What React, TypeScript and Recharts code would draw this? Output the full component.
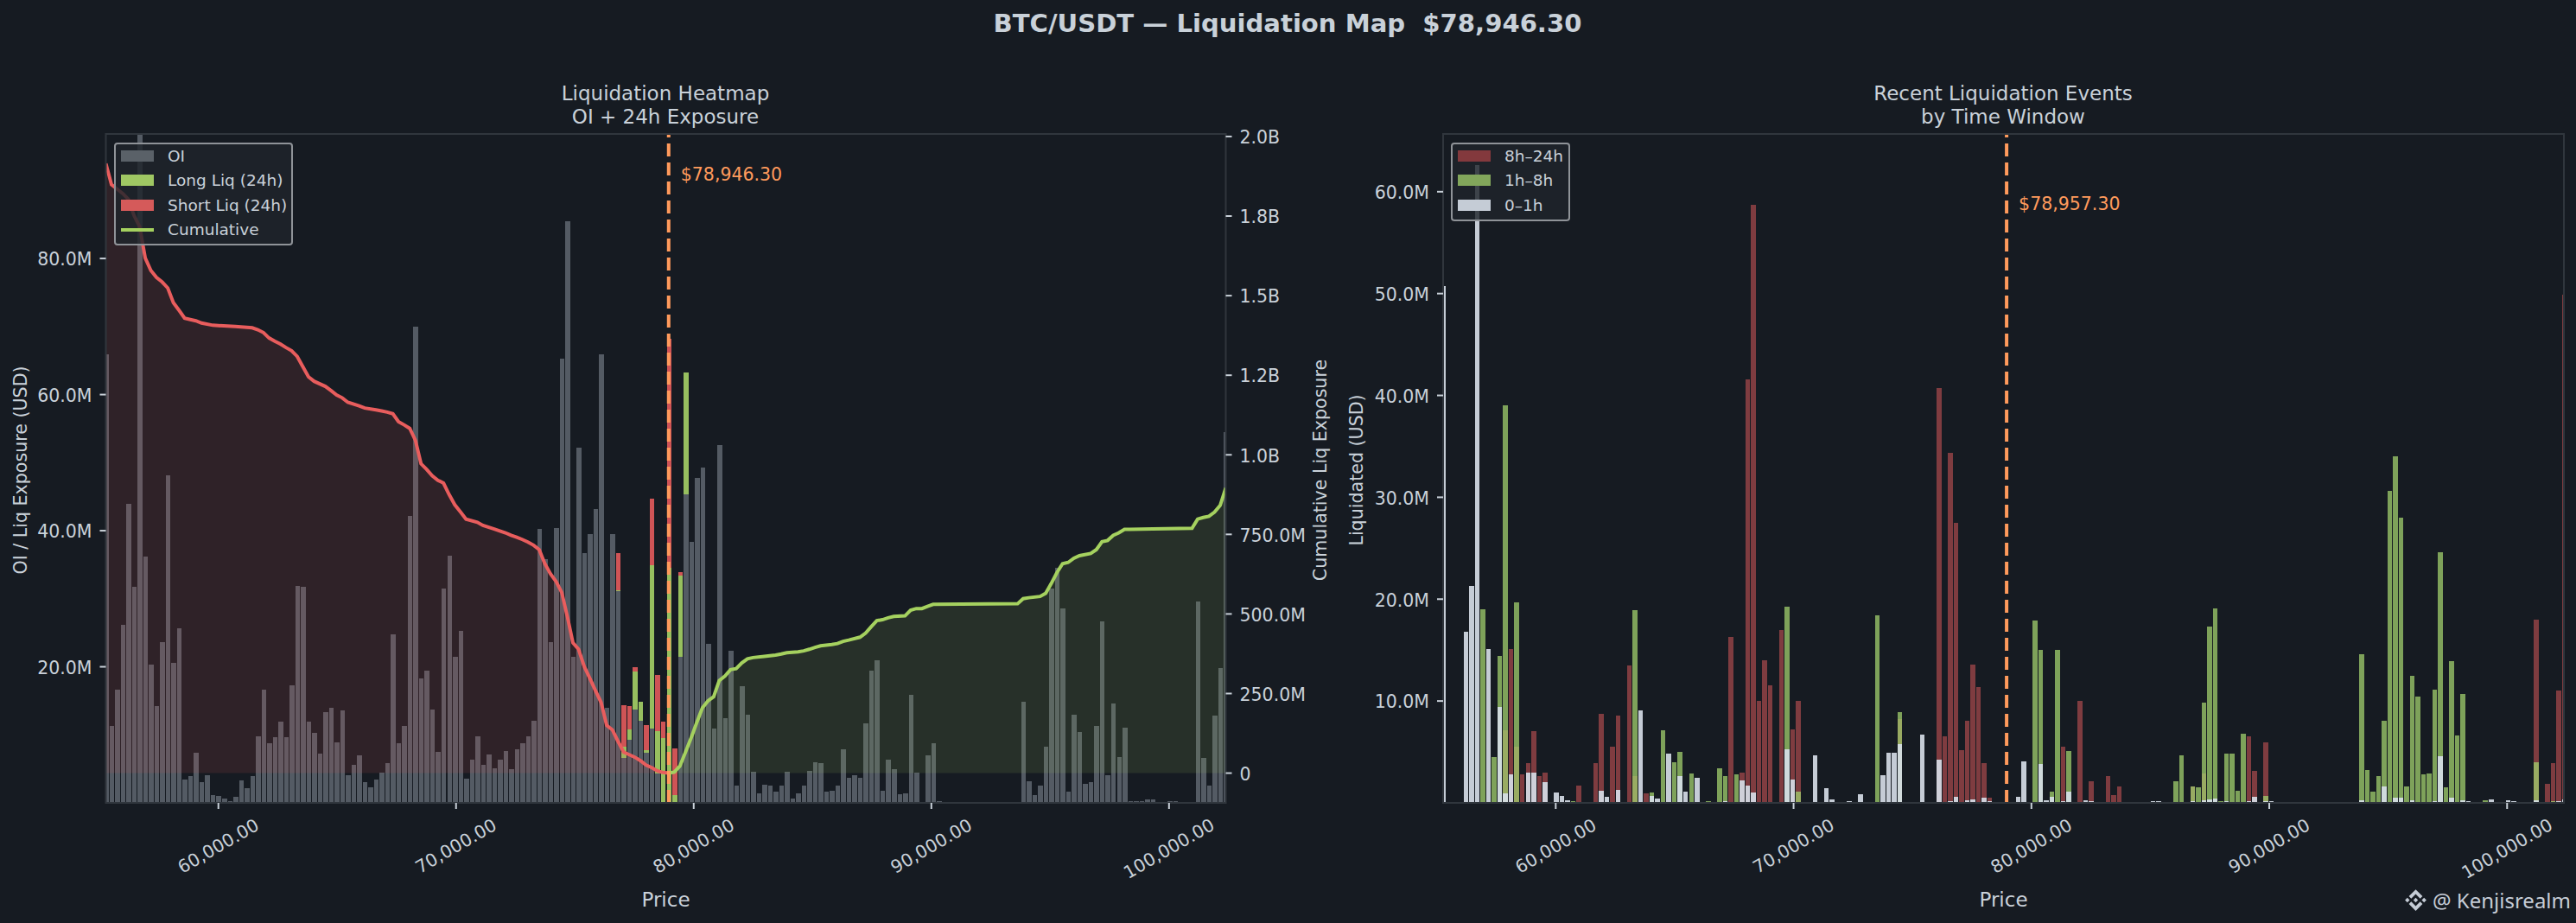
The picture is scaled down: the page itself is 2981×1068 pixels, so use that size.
import React from 'react';
import { Area, Bar, ComposedChart, ReferenceArea, ReferenceLine, XAxis, YAxis } from 'recharts';

// 200 price bins, first and last bin centre sit on the plot edges
const FIRST_BIN = 55265;
const BIN_STEP = 236.8;
const priceTicks = [60000, 70000, 80000, 90000, 100000];
const cumTicks = [0, 0.25, 0.5, 0.75, 1, 1.25, 1.5, 1.75, 2];
const cumTickLabels = ['0', '250.0M', '500.0M', '750.0M', '1.0B', '1.2B', '1.5B', '1.8B', '2.0B'];

// values in millions USD
const oiValues = [
  65.9, 11.3, 16.6, 26.2, 44, 31.8, 100, 36.2, 20.3, 14.2, 23.6, 48.1, 20.6, 25.6, 3.4, 4, 7.4, 3.1, 4.1, 1.2,
  1, 0.6, 0.2, 0.9, 3.3, 2.2, 4, 9.8, 16.6, 8.8, 9.6, 12, 9.6, 17.3, 31.9, 31.8, 12, 10.3, 7.3, 13.3,
  14, 8.9, 13.6, 4.1, 5.6, 7, 3, 2.3, 3.4, 4.5, 5.9, 24.8, 8.8, 11.3, 42.2, 70, 18.3, 19.4, 13.7, 7.5,
  31.5, 36.3, 21.5, 25.3, 3.6, 6.4, 9.8, 5.6, 7.1, 5.1, 6.3, 7.6, 5, 7.9, 8.7, 9.8, 12.1, 40.3, 35.8, 23.6,
  40.4, 65.3, 85.5, 21.5, 52.2, 36.7, 39.5, 43.2, 65.9, 14, 39.5, 31.1, 6.6, 9.3, 13.7, 12.1, 7.4, 10.9, 4.3, 0,
  0, 0, 21.5, 45.3, 38.3, 47.8, 49.3, 23.4, 10.9, 52.6, 12.5, 22.4, 2.5, 17.2, 12.9, 4.6, 1.4, 2.7, 2.5, 1.7,
  2.6, 4.6, 0.6, 1.4, 2.5, 4.7, 6, 5.8, 1.7, 1.8, 2.5, 7.9, 3.7, 4.1, 3.7, 11.7, 19.4, 21, 1.8, 6.3,
  5, 1.3, 1.4, 15.9, 4.5, 0, 7, 8.8, 0.25, 0, 0, 0.1, 0, 0, 0, 0.1, 0, 0, 0, 0,
  0, 0, 0, 14.9, 3.2, 1.2, 2.6, 8.2, 31.5, 34.6, 28.6, 1.6, 12.9, 10.4, 2.8, 3, 11.3, 26.7, 4.1, 14.6,
  6.7, 11.1, 0.25, 0.2, 0.2, 0.5, 0.5, 0, 0, 0.25, 0.2, 0, 0, 0, 29.6, 6.6, 2.5, 12.8, 19.8, 54.5,
];
const longLiq: Record<number, number> = {
  91: 0.1, 92: 1.6, 93: 1.5, 94: 5.6, 95: 2.8, 96: 0.3, 97: 24, 98: 6.2, 99: 9.5, 100: 34.5, 101: 1.1, 102: 11.9, 103: 17.9,
};
const shortLiq: Record<number, number> = {
  91: 5.5, 92: 6.2, 93: 3.4, 94: 0.6, 96: 3.7, 97: 9.8, 98: 8.3, 99: 2.4, 100: 33.7, 101: 6.9, 102: 0.5, 103: 0.1,
};

// cumulative exposure in billions USD, sampled at the bins where it could be read
const cumShort: Record<number, number> = {
  0: 1.915, 1: 1.849, 2: 1.835, 3: 1.821, 4: 1.803, 5: 1.752, 6: 1.717, 7: 1.618, 8: 1.579, 9: 1.557, 10: 1.543,
  11: 1.524, 12: 1.478, 13: 1.454, 14: 1.429, 15: 1.425, 16: 1.421, 17: 1.414, 19: 1.407, 20: 1.406, 23: 1.403,
  26: 1.399, 27: 1.393, 28: 1.384, 29: 1.367, 30: 1.357, 31: 1.348, 32: 1.337, 33: 1.327, 34: 1.309, 35: 1.277,
  36: 1.245, 37: 1.231, 39: 1.215, 40: 1.202, 41: 1.188, 42: 1.179, 43: 1.165, 45: 1.154, 46: 1.147, 48: 1.141,
  49: 1.138, 50: 1.134, 51: 1.129, 52: 1.104, 53: 1.094, 54: 1.083, 55: 1.046, 56: 0.972, 57: 0.954, 58: 0.934,
  59: 0.92, 60: 0.911, 61: 0.875, 62: 0.843, 63: 0.821, 64: 0.798, 66: 0.788, 67: 0.778, 69: 0.767, 71: 0.755,
  72: 0.747, 73: 0.741, 74: 0.734, 75: 0.726, 76: 0.716, 77: 0.702, 78: 0.658, 79: 0.626, 80: 0.602, 81: 0.568,
  82: 0.492, 83: 0.409, 84: 0.389, 85: 0.335, 86: 0.298, 87: 0.259, 88: 0.222, 89: 0.15, 90: 0.136, 91: 0.1,
  92: 0.066, 93: 0.058, 94: 0.05, 95: 0.039, 96: 0.025, 97: 0.017, 98: 0.007, 99: 0.002, 100: 0,
};
const cumLong: Record<number, number> = {
  100: 0, 101: 0.003, 102: 0.022, 103: 0.066, 104: 0.111, 105: 0.159, 106: 0.205, 107: 0.227, 108: 0.24, 109: 0.291,
  110: 0.305, 111: 0.325, 112: 0.328, 113: 0.346, 114: 0.359, 115: 0.363, 117: 0.367, 119: 0.371, 120: 0.374,
  121: 0.378, 123: 0.381, 124: 0.384, 125: 0.389, 126: 0.395, 127: 0.4, 129: 0.404, 130: 0.407, 131: 0.414,
  132: 0.418, 134: 0.427, 135: 0.44, 136: 0.46, 137: 0.479, 138: 0.482, 139: 0.488, 140: 0.492, 142: 0.494,
  143: 0.512, 144: 0.517, 145: 0.517, 146: 0.524, 147: 0.53, 162: 0.532, 163: 0.548, 164: 0.551, 166: 0.555,
  167: 0.565, 168: 0.596, 169: 0.63, 170: 0.658, 171: 0.662, 172: 0.675, 173: 0.683, 175: 0.69, 176: 0.702,
  177: 0.727, 178: 0.731, 179: 0.747, 180: 0.755, 181: 0.766, 182: 0.766, 186: 0.767, 193: 0.769, 194: 0.798,
  195: 0.803, 196: 0.807, 197: 0.82, 198: 0.841, 199: 0.896,
};

// recent events per time window, millions USD
const recent8to24h: Record<number, number> = {
  11: 7.1, 12: 15.1, 13: 5.5, 14: 2.8, 15: 3.9, 16: 7, 17: 2.6, 18: 3, 24: 1.7, 27: 3.9, 28: 8.7, 30: 5.5, 31: 8.6, 33: 13.5,
  34: 2.6, 36: 0.95, 51: 16.3, 53: 3, 54: 41.6, 55: 58.7, 56: 10, 57: 14, 58: 11.5, 60: 17, 62: 7.2, 63: 10, 81: 8.2,
  88: 40.7, 89: 6.5, 90: 34.4, 91: 27.5, 92: 5.2, 93: 8.1, 94: 13.6, 95: 11.4, 96: 3.9, 97: 0.5, 110: 5.5, 113: 10,
  115: 2.1, 118: 2.6, 119: 0.8, 120: 1.6, 133: 1.6, 135: 2.9, 143: 6.5, 144: 3.1, 146: 5.9, 194: 18, 196: 1.9, 197: 3.9,
  198: 11, 199: 49.9,
};
const recent1to8h: Record<number, number> = {
  7: 19, 9: 4.5, 10: 14.4, 11: 39, 13: 19.7, 23: 0.13, 24: 0.1, 34: 18.9, 37: 1, 39: 7.1, 41: 4, 42: 5, 44: 2.9, 47: 0.17,
  49: 3.4, 50: 2.6, 52: 2.8, 61: 19.3, 63: 1.1, 77: 18.4, 81: 8.9, 105: 17.9, 106: 15, 108: 1.1, 109: 15, 111: 5.1,
  130: 2.1, 131: 4.7, 133: 1.6, 134: 1.5, 135: 9.8, 136: 17.3, 137: 19.1, 138: 0.17, 139: 4.8, 140: 4.8, 141: 1.2,
  142: 6.8, 146: 0.7, 163: 14.6, 164: 3.2, 165: 1.1, 166: 2.6, 167: 8.1, 168: 30.6, 169: 34, 170: 28, 171: 1.6, 172: 12.5,
  173: 10.4, 174: 2.8, 175: 2.9, 176: 11.1, 177: 24.6, 178: 1.5, 179: 13.9, 180: 6.6, 181: 10.7, 183: 0.05, 185: 0.26,
  187: 0.05, 192: 0.05, 194: 4, 196: 0.05, 197: 0.17,
};
const recent0to1h: Record<number, number> = {
  0: 50.7, 4: 16.8, 5: 21.3, 6: 62.6, 8: 15.1, 10: 9.4, 11: 0.9, 12: 2.8, 15: 3, 16: 3, 18: 2, 20: 1, 21: 0.7, 22: 0.26, 25: 0.05,
  28: 1.2, 29: 0.6, 31: 1.3, 35: 9.1, 37: 0.7, 38: 0.43, 40: 4.8, 42: 2.6, 43: 1.1, 45: 2.5, 50: 0.17, 53: 2.2, 54: 1.7, 55: 1,
  58: 0.05, 61: 5.3, 62: 2.3, 63: 0.1, 66: 4.7, 68: 1.4, 69: 0.35, 72: 0.13, 74: 0.87, 78: 2.7, 79: 4.9, 80: 4.9, 81: 5.8,
  83: 0.05, 85: 6.7, 88: 4.2, 90: 0.17, 91: 0.6, 93: 0.26, 94: 0.35, 96: 0.5, 97: 0.17, 102: 0.6, 103: 4.1, 104: 0.05,
  106: 3.8, 107: 0.26, 108: 0.6, 110: 0.17, 111: 1.1, 113: 0.05, 114: 0.26, 115: 0.17, 117: 0.05, 118: 0.05, 120: 0.05,
  121: 0.05, 124: 0.05, 126: 0.13, 127: 0.13, 132: 0.05, 133: 0.17, 134: 0.05, 135: 0.26, 136: 0.35, 137: 0.43, 139: 0.13,
  140: 0.05, 143: 0.17, 144: 0.6, 146: 0.13, 147: 0.13, 163: 0.26, 164: 0.05, 167: 1.6, 169: 0.5, 170: 0.5, 172: 0.26,
  173: 0.05, 176: 0.13, 177: 4.6, 179: 0.5, 180: 0.05, 181: 0.26, 182: 0.13, 186: 0.35, 189: 0.26, 190: 0.13, 194: 0.26,
  198: 0.13, 199: 0.35,
};

const binPrice = (i: number) => FIRST_BIN + BIN_STEP * i;
const priceDomain = [binPrice(0), binPrice(199)];

const heatmapRows = oiValues.map((oi, i) => ({
  price: binPrice(i),
  oi,
  long: longLiq[i] ?? 0,
  short: shortLiq[i] ?? 0,
  cumShort: cumShort[i],
  cumLong: cumLong[i],
}));
const eventRows = oiValues.map((_, i) => ({
  price: binPrice(i),
  w8to24: recent8to24h[i] ?? 0,
  w1to8: recent1to8h[i] ?? 0,
  w0to1: recent0to1h[i] ?? 0,
}));

const BG = '#161b22';
const TEXT = '#c9d1d9';
const SPINE = '#30363d';
const ORANGE = '#ff9a5c';
const GREEN = '#a5d15f';
const RED = '#e85d5d';
const FONT = 'DejaVu Sans';
const BAR_WIDTH = 5.5;
const TICK = { fill: TEXT, fontSize: 20.5, fontFamily: FONT, dy: 1 };
const PRICE_LABEL = { fill: TEXT, fontSize: 23, fontFamily: FONT, textAnchor: 'middle' as const };

const PriceTick = ({ x, payload }: any) => {
  const label = payload.value.toLocaleString('en-US', { minimumFractionDigits: 2 });
  const cy = label.length > 9 ? 982 : 979;
  return (
    <text
      x={x}
      y={cy}
      transform={`rotate(-30 ${x} ${cy})`}
      textAnchor="middle"
      dominantBaseline="central"
      fill={TEXT}
      fontSize={20.5}
      fontFamily={FONT}
    >
      {label}
    </text>
  );
};

const millions = (v: number) => `${v.toFixed(1)}M`;
const cumulative = (v: number) => cumTickLabels[cumTicks.indexOf(v)];

const PriceLabel = (text: string, dy: number) => (props: any) => (
  <text x={props.viewBox.x + 14} y={props.viewBox.y + dy} fill={ORANGE} fontSize={20.5} fontFamily={FONT} dominantBaseline="central">
    {text}
  </text>
);

// rotated axis title, x is the text baseline inside the chart's svg
const AxisTitle = (text: string, x: number) => () => (
  <text
    x={x}
    y={544}
    transform={`rotate(-90 ${x} 544)`}
    textAnchor="middle"
    fill={TEXT}
    fontSize={20.6}
    fontFamily={FONT}
  >
    {text}
  </text>
);

const Heatmap = () => (
  <ComposedChart width={1560} height={1068} data={heatmapRows} margin={{ top: 155, right: 0, bottom: 0, left: 0 }}>
    <XAxis
      dataKey="price"
      type="number"
      domain={priceDomain}
      ticks={priceTicks}
      interval={0}
      allowDataOverflow
      height={139}
      axisLine={false}
      tick={PriceTick}
      tickSize={7}
      tickLine={{ stroke: TEXT, strokeWidth: 2 }}
      label={{ value: 'Price', position: 'insideBottom', offset: 19, ...PRICE_LABEL }}
    />
    <YAxis
      yAxisId="left"
      width={122.5}
      domain={[0, 98.3]}
      ticks={[20, 40, 60, 80]}
      allowDataOverflow
      axisLine={false}
      tickFormatter={millions}
      tick={TICK}
      tickSize={7}
      tickMargin={9}
      tickLine={{ stroke: TEXT, strokeWidth: 2 }}
      label={AxisTitle('OI / Liq Exposure (USD)', 31)}
    />
    <YAxis
      yAxisId="right"
      orientation="right"
      width={141.5}
      domain={[-0.0935, 2.008]}
      ticks={cumTicks}
      allowDataOverflow
      axisLine={false}
      tickFormatter={cumulative}
      tick={TICK}
      tickSize={7}
      tickMargin={9}
      tickLine={{ stroke: TEXT, strokeWidth: 2 }}
      label={AxisTitle('Cumulative Liq Exposure', 1535)}
    />
    <Bar yAxisId="left" dataKey="oi" stackId="liq" barSize={BAR_WIDTH} fill="#545b64" shapeRendering="crispEdges" isAnimationActive={false} />
    <Bar yAxisId="left" dataKey="long" stackId="liq" barSize={BAR_WIDTH} fill="#97bf5f" shapeRendering="crispEdges" isAnimationActive={false} />
    <Bar yAxisId="left" dataKey="short" stackId="liq" barSize={BAR_WIDTH} fill="#cf5456" shapeRendering="crispEdges" isAnimationActive={false} />
    <Area
      yAxisId="right"
      type="linear"
      dataKey="cumShort"
      connectNulls
      stroke={RED}
      strokeWidth={4}
      fill={RED}
      fillOpacity={0.12}
      dot={false}
      activeDot={false}
      zIndex={350}
      isAnimationActive={false}
    />
    <Area
      yAxisId="right"
      type="linear"
      dataKey="cumLong"
      connectNulls
      stroke={GREEN}
      strokeWidth={4}
      fill={GREEN}
      fillOpacity={0.12}
      dot={false}
      activeDot={false}
      zIndex={350}
      isAnimationActive={false}
    />
    <ReferenceLine
      yAxisId="left"
      x={78946.3}
      stroke={ORANGE}
      strokeWidth={4}
      strokeDasharray="15 7"
      zIndex={450}
      label={PriceLabel('$78,946.30', 47)}
    />
    <ReferenceArea
      yAxisId="left"
      x1={priceDomain[0]}
      x2={priceDomain[1]}
      y1={0}
      y2={98.3}
      fill="none"
      stroke={SPINE}
      strokeWidth={2}
      zIndex={460}
    />
  </ComposedChart>
);

const Events = () => (
  <ComposedChart
    width={1421}
    height={1068}
    data={eventRows}
    barGap={-BAR_WIDTH}
    margin={{ top: 155, right: 14, bottom: 0, left: 0 }}
  >
    <XAxis
      dataKey="price"
      type="number"
      domain={priceDomain}
      ticks={priceTicks}
      interval={0}
      allowDataOverflow
      height={139}
      axisLine={false}
      tick={PriceTick}
      tickSize={7}
      tickLine={{ stroke: TEXT, strokeWidth: 2 }}
      label={{ value: 'Price', position: 'insideBottom', offset: 19, ...PRICE_LABEL }}
    />
    <YAxis
      width={110}
      domain={[0, 65.67]}
      ticks={[10, 20, 30, 40, 50, 60]}
      allowDataOverflow
      axisLine={false}
      tickFormatter={millions}
      tick={TICK}
      tickSize={7}
      tickMargin={9}
      tickLine={{ stroke: TEXT, strokeWidth: 2 }}
      label={AxisTitle('Liquidated (USD)', 17)}
    />
    <Bar dataKey="w8to24" barSize={BAR_WIDTH} fill={RED} fillOpacity={0.5} shapeRendering="crispEdges" isAnimationActive={false} />
    <Bar dataKey="w1to8" barSize={BAR_WIDTH} fill="#a2d06d" fillOpacity={0.75} shapeRendering="crispEdges" isAnimationActive={false} />
    <Bar dataKey="w0to1" barSize={BAR_WIDTH} fill="#d8e0ea" fillOpacity={0.9} shapeRendering="crispEdges" isAnimationActive={false} />
    <ReferenceLine
      x={78957.3}
      stroke={ORANGE}
      strokeWidth={4}
      strokeDasharray="15 7"
      zIndex={450}
      label={PriceLabel('$78,957.30', 81)}
    />
    <ReferenceArea
      x1={priceDomain[0]}
      x2={priceDomain[1]}
      y1={0}
      y2={65.67}
      fill="none"
      stroke={SPINE}
      strokeWidth={2}
      zIndex={460}
    />
  </ComposedChart>
);

type LegendItem = { label: string; color: string; line?: boolean };

const heatmapLegend: LegendItem[] = [
  { label: 'OI', color: '#5a6168' },
  { label: 'Long Liq (24h)', color: '#9fc763' },
  { label: 'Short Liq (24h)', color: '#d55a5a' },
  { label: 'Cumulative', color: GREEN, line: true },
];
const eventsLegend: LegendItem[] = [
  { label: '8h–24h', color: '#83393d' },
  { label: '1h–8h', color: '#82a65b' },
  { label: '0–1h', color: '#c5ccd6' },
];

const LegendBox = ({ items, left, width, top }: { items: LegendItem[]; left: number; width: number; top: number }) => (
  <div
    style={{
      position: 'absolute',
      left,
      top,
      width,
      height: items.length * 28.6 + 5,
      boxSizing: 'border-box',
      background: 'rgba(31,36,43,0.82)',
      border: '2px solid #8f9398',
      borderRadius: 4,
    }}
  >
    {items.map((item, i) => (
      <div
        key={item.label}
        style={{ position: 'absolute', left: 0, top: -1 + i * 28.6, height: 28, width: '100%', display: 'flex', alignItems: 'center' }}
      >
        <div
          style={{
            marginLeft: 6,
            width: 38,
            height: item.line ? 3.5 : 13,
            background: item.color,
            flex: 'none',
          }}
        />
        <span style={{ marginLeft: 16, color: TEXT, fontFamily: FONT, fontSize: 18.5, whiteSpace: 'nowrap' }}>{item.label}</span>
      </div>
    ))}
  </div>
);

const centred = (x: number, y: number, size: number, bold = false): React.CSSProperties => ({
  position: 'absolute',
  left: x - 500,
  width: 1000,
  top: y - size,
  height: size * 2,
  lineHeight: `${size * 2}px`,
  textAlign: 'center',
  color: TEXT,
  fontFamily: FONT,
  fontSize: size,
  fontWeight: bold ? 700 : 400,
  whiteSpace: 'pre',
});

const BinanceMark = () => (
  <svg width={27} height={27} viewBox="0 0 24 24" style={{ position: 'absolute', left: 2782, top: 1028 }}>
    <g fill="#c5ccd6">
      <polygon points="12,9.6 14.4,12 12,14.4 9.6,12" />
      <polygon points="3.4,9.6 5.8,12 3.4,14.4 1,12" />
      <polygon points="20.6,9.6 23,12 20.6,14.4 18.2,12" />
      <polygon points="12,1 19,8 16.6,10.4 12,5.8 7.4,10.4 5,8" />
      <polygon points="12,23 19,16 16.6,13.6 12,18.2 7.4,13.6 5,16" />
    </g>
  </svg>
);

const App = () => (
  <div style={{ position: 'relative', width: 2981, height: 1068, background: BG, overflow: 'hidden' }}>
    <style>{`html,body{margin:0;padding:0;background:${BG}}`}</style>
    <div style={{ position: 'absolute', left: 0, top: 0 }}>
      <Heatmap />
    </div>
    <div style={{ position: 'absolute', left: 1560, top: 0 }}>
      <Events />
    </div>
    <div style={centred(1490, 27, 29.1, true)}>BTC/USDT — Liquidation Map  $78,946.30</div>
    <div style={centred(770, 108, 23)}>Liquidation Heatmap</div>
    <div style={centred(770, 135, 23)}>OI + 24h Exposure</div>
    <div style={centred(2318, 108, 23)}>Recent Liquidation Events</div>
    <div style={centred(2318, 135, 23)}>by Time Window</div>
    <LegendBox items={heatmapLegend} left={132} width={207} top={165} />
    <LegendBox items={eventsLegend} left={1679} width={138} top={165} />
    <BinanceMark />
    <div
      style={{
        position: 'absolute',
        left: 2815,
        top: 1024,
        height: 36,
        lineHeight: '36px',
        color: '#c5ccd6',
        fontFamily: 'Noto Sans',
        fontSize: 24,
        whiteSpace: 'pre',
      }}
    >
      @ Kenjisrealm
    </div>
  </div>
);

export default App;
